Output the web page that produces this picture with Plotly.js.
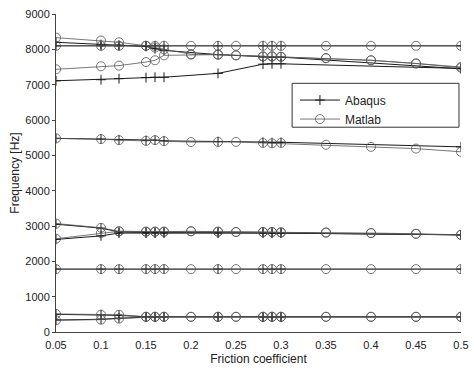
<!DOCTYPE html>
<html>
<head>
<meta charset="utf-8">
<script src="https://cdn.plot.ly/plotly-3.0.1.min.js"></script>
<style>html,body{margin:0;padding:0;background:#fff;}#chart{width:474px;height:370px;}</style>
</head>
<body>
<div id="chart"></div>
<script>
// Friction coefficient sample points
const xAbaqus = [0.05, 0.1, 0.12, 0.15, 0.16, 0.17, 0.23, 0.28, 0.29, 0.3, 0.5];
const xMatlab = [0.05, 0.1, 0.12, 0.15, 0.16, 0.17, 0.2, 0.23, 0.25, 0.28, 0.29, 0.3, 0.35, 0.4, 0.45, 0.5];

// Abaqus frequencies [Hz], one array per mode
const abaqusMode1 = [500, 490, 470, 430, 430, 430, 430, 430, 430, 430, 430];
const abaqusMode2 = [340, 360, 390, 430, 430, 430, 430, 430, 430, 430, 430];
const abaqusMode3 = [1780, 1780, 1780, 1780, 1780, 1780, 1780, 1780, 1780, 1780, 1780];
const abaqusMode4 = [2620, 2720, 2800, 2800, 2800, 2800, 2800, 2800, 2800, 2800, 2750];
const abaqusMode5 = [3050, 2940, 2830, 2810, 2810, 2810, 2810, 2810, 2800, 2800, 2750];
const abaqusMode6 = [5480, 5460, 5440, 5420, 5430, 5410, 5390, 5370, 5360, 5370, 5240];
const abaqusMode7 = [7110, 7140, 7170, 7200, 7210, 7210, 7320, 7580, 7590, 7590, 7460];
const abaqusMode8 = [8200, 8140, 8120, 8080, 8020, 7970, 7850, 7780, 7780, 7780, 7450];
const abaqusMode9 = [8100, 8100, 8100, 8100, 8100, 8100, 8100, 8100, 8100, 8100, 8100];

// Matlab frequencies [Hz], one array per mode
const matlabMode1 = [510, 490, 490, 430, 430, 430, 430, 430, 430, 430, 430, 430, 430, 430, 430, 430];
const matlabMode2 = [330, 350, 380, 430, 430, 430, 430, 430, 430, 430, 430, 430, 430, 430, 430, 430];
const matlabMode3 = [1780, 1780, 1780, 1780, 1780, 1780, 1780, 1780, 1780, 1780, 1780, 1780, 1780, 1780, 1780, 1780];
const matlabMode4 = [2640, 2800, 2850, 2840, 2840, 2840, 2850, 2840, 2830, 2830, 2830, 2820, 2815, 2800, 2780, 2750];
const matlabMode5 = [3070, 2950, 2850, 2840, 2840, 2840, 2850, 2840, 2830, 2830, 2830, 2820, 2815, 2800, 2780, 2750];
const matlabMode6 = [5480, 5460, 5430, 5410, 5430, 5400, 5375, 5380, 5380, 5350, 5340, 5350, 5300, 5240, 5190, 5100];
const matlabMode7 = [7435, 7520, 7540, 7640, 7690, 7830, 7850, 7850, 7830, 7800, 7800, 7790, 7750, 7690, 7600, 7500];
const matlabMode8 = [8330, 8250, 8200, 8100, 8050, 8000, 7860, 7850, 7830, 7800, 7800, 7790, 7750, 7690, 7600, 7480];
const matlabMode9 = [8100, 8100, 8100, 8100, 8100, 8100, 8100, 8100, 8100, 8100, 8100, 8100, 8100, 8100, 8100, 8100];

const xTicks = [0.05, 0.1, 0.15, 0.2, 0.25, 0.3, 0.35, 0.4, 0.45, 0.5];
const xTickText = ['0.05', '0.1', '0.15', '0.2', '0.25', '0.3', '0.35', '0.4', '0.45', '0.5'];
const yTicks = [0, 1000, 2000, 3000, 4000, 5000, 6000, 7000, 8000, 9000];

const abaqusModes = [abaqusMode1, abaqusMode2, abaqusMode3, abaqusMode4, abaqusMode5, abaqusMode6, abaqusMode7, abaqusMode8, abaqusMode9];
const matlabModes = [matlabMode1, matlabMode2, matlabMode3, matlabMode4, matlabMode5, matlabMode6, matlabMode7, matlabMode8, matlabMode9];

const traces = [];
abaqusModes.forEach((ys, i) => {
  traces.push({
    x: xAbaqus, y: ys, type: 'scatter', mode: 'lines+markers',
    name: 'Abaqus', legendgroup: 'a', showlegend: i === 0,
    line: {color: '#1a1a1a', width: 1},
    marker: {symbol: 'cross-thin-open', size: 7, line: {color: '#1a1a1a', width: 1}}
  });
});
matlabModes.forEach((ys, i) => {
  traces.push({
    x: xMatlab, y: ys, type: 'scatter', mode: 'lines+markers',
    name: 'Matlab', legendgroup: 'm', showlegend: i === 0,
    line: {color: '#555555', width: 0.8},
    marker: {symbol: 'circle-open', size: 9, line: {color: '#555555', width: 0.8}}
  });
});

const layout = {
  width: 474, height: 370,
  margin: {l: 56, r: 13, t: 13.5, b: 37.5},
  paper_bgcolor: '#fff', plot_bgcolor: '#fff',
  font: {family: 'Liberation Sans, Arial, sans-serif', size: 11, color: '#222'},
  showlegend: true,
  legend: {
    x: 0.59, y: 0.775, xanchor: 'left', yanchor: 'top',
    bgcolor: 'rgba(0,0,0,0)', borderwidth: 0,
    font: {size: 12, color: '#222'}, itemwidth: 40, tracegroupgap: 0
  },
  shapes: [{
    type: 'rect', xref: 'paper', yref: 'paper', layer: 'below',
    x0: 0.583, x1: 0.995, y0: 0.644, y1: 0.782,
    line: {color: '#333', width: 1}, fillcolor: '#fff'
  }],
  xaxis: {
    range: [0.05, 0.5], tickvals: xTicks, ticktext: xTickText,
    showgrid: false, zeroline: false, showline: true, linecolor: '#444', linewidth: 1,
    ticks: '', tickfont: {size: 11}, ticklabelstandoff: 3,
    title: {text: 'Friction coefficient', font: {size: 12}, standoff: 4}
  },
  yaxis: {
    range: [0, 9000], tickvals: yTicks,
    showgrid: false, zeroline: false, showline: true, linecolor: '#444', linewidth: 1,
    ticks: 'outside', ticklen: 3, tickcolor: '#444',
    tickfont: {size: 11},
    title: {text: 'Frequency [Hz]', font: {size: 12}, standoff: 3}
  }
};

Plotly.newPlot('chart', traces, layout, {displayModeBar: false, staticPlot: true});
</script>
</body>
</html>
